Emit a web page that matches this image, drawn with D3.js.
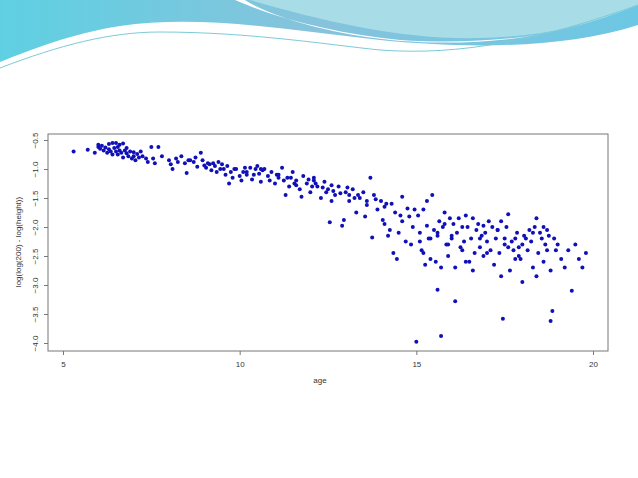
<!DOCTYPE html>
<html>
<head>
<meta charset="utf-8">
<script src="https://cdn.jsdelivr.net/npm/d3@7"></script>
<style>
body { margin: 0; background: #fff; }
text { font-family: "Liberation Sans", Arial, sans-serif; fill: #333; }
</style>
</head>
<body>
<svg id="chart" width="638" height="478"></svg>
<script>
var ages = [5.3,5.7,5.9,6.0,6.0,6.05,6.1,6.15,6.2,6.25,6.3,6.3,6.35,6.4,6.4,6.45,6.5,6.5,6.55,6.55,6.6,6.6,6.65,6.7,6.7,6.75,6.8,6.8,6.85,6.9,6.95,7.0,7.0,7.05,7.1,7.15,7.2,7.25,7.35,7.4,7.5,7.55,7.6,7.7,7.8,8.0,8.05,8.1,8.2,8.25,8.35,8.45,8.5,8.55,8.6,8.7,8.75,8.8,8.9,8.95,9.0,9.05,9.1,9.15,9.2,9.25,9.3,9.35,9.4,9.45,9.5,9.55,9.6,9.65,9.7,9.75,9.8,9.85,9.9,10.0,10.05,10.1,10.15,10.2,10.3,10.35,10.4,10.45,10.5,10.55,10.6,10.65,10.7,10.8,10.85,10.9,11.0,11.05,11.1,11.2,11.25,11.3,11.35,11.4,11.45,11.5,11.55,11.6,11.7,11.75,11.8,11.9,11.95,12.0,12.05,12.1,12.15,12.2,12.3,12.35,12.4,12.45,12.5,12.55,12.6,12.65,12.7,12.8,12.85,12.9,12.95,13.0,13.05,13.1,13.2,13.25,13.3,13.35,13.4,13.5,13.55,13.6,13.7,13.75,13.8,13.85,13.9,14.0,14.05,14.1,14.15,14.2,14.25,14.3,14.35,14.4,14.45,14.5,14.55,14.6,14.7,14.75,14.8,14.85,14.9,14.95,15.0,15.05,15.1,15.15,15.2,15.25,15.3,15.35,15.4,15.45,15.5,15.55,15.6,15.6,15.65,15.7,15.7,15.75,15.8,15.85,15.9,15.95,16.0,16.05,16.1,16.1,16.15,16.2,16.25,16.3,16.35,16.4,16.45,16.5,16.55,16.6,16.65,16.7,16.75,16.8,16.85,16.9,16.95,17.0,17.05,17.1,17.15,17.2,17.25,17.3,17.35,17.4,17.45,17.5,17.5,17.55,17.6,17.65,17.7,17.75,17.8,17.85,17.9,17.95,18.0,18.05,18.1,18.15,18.2,18.25,18.3,18.35,18.4,18.45,18.5,18.55,18.6,18.65,18.7,18.75,18.8,18.8,18.85,18.9,18.95,19.0,19.2,19.3,19.4,19.5,19.6,19.7,19.8,
  10.2,10.6,11.1,11.6,12.1,12.6,13.1,13.6,14.1,14.6,15.1,15.3,15.8,16.3,16.8,17.3,17.8,18.3,18.6,19.1,
  15.2,15.4,15.9,16.4,16.9,17.4,17.9,18.4,18.7,15.6,16.6,17.6,16.0,17.0,18.0];
var logVals = [-0.70,-0.67,-0.72,-0.58,-0.62,-0.65,-0.60,-0.68,-0.63,-0.72,-0.57,-0.66,-0.70,-0.55,-0.75,-0.64,-0.55,-0.70,-0.75,-0.62,-0.68,-0.58,-0.72,-0.56,-0.80,-0.68,-0.73,-0.64,-0.78,-0.70,-0.82,-0.78,-0.71,-0.85,-0.74,-0.80,-0.70,-0.78,-0.82,-0.88,-0.62,-0.82,-0.90,-0.62,-0.78,-0.85,-0.92,-1.00,-0.82,-0.88,-0.78,-0.90,-1.07,-0.85,-0.85,-0.88,-0.80,-0.96,-0.72,-0.85,-0.94,-0.98,-0.90,-0.92,-1.02,-0.90,-0.95,-1.05,-0.88,-1.00,-0.92,-1.00,-1.10,-0.95,-1.25,-1.05,-1.15,-1.00,-1.00,-1.12,-1.20,-1.05,-0.98,-1.10,-0.98,-1.18,-1.10,-1.00,-0.95,-1.08,-1.22,-1.02,-1.00,-1.12,-1.20,-1.05,-1.25,-1.10,-1.10,-0.98,-1.20,-1.45,-1.15,-1.30,-1.15,-1.05,-1.25,-1.20,-1.35,-1.48,-1.12,-1.25,-1.18,-1.40,-1.30,-1.15,-1.25,-1.30,-1.50,-1.32,-1.22,-1.40,-1.35,-1.92,-1.28,-1.38,-1.45,-1.30,-1.42,-1.98,-1.88,-1.40,-1.32,-1.55,-1.35,-1.50,-1.75,-1.45,-1.50,-1.40,-1.82,-1.62,-1.15,-2.18,-1.45,-1.52,-1.70,-1.55,-1.88,-1.95,-1.60,-2.15,-2.05,-1.60,-2.45,-1.75,-2.55,-2.10,-1.80,-1.48,-2.25,-1.68,-1.82,-2.30,-2.00,-1.70,-3.98,-1.80,-2.10,-2.40,-1.70,-2.65,-1.98,-2.20,-2.55,-1.45,-2.05,-2.60,-3.08,-2.10,-1.90,-2.70,-3.88,-2.00,-1.75,-2.30,-2.50,-1.85,-2.15,-1.95,-3.28,-2.70,-2.10,-1.85,-2.35,-2.00,-2.25,-1.80,-2.00,-2.60,-2.20,-1.85,-2.45,-2.05,-1.95,-2.35,-2.15,-2.50,-2.10,-2.25,-1.90,-2.40,-2.00,-2.65,-2.20,-2.05,-2.45,-1.90,-3.58,-2.20,-2.30,-2.00,-1.78,-2.75,-2.25,-2.40,-2.20,-2.10,-2.35,-2.55,-2.30,-2.15,-2.20,-2.40,-2.05,-2.25,-2.10,-2.00,-1.85,-2.45,-2.10,-2.20,-2.60,-2.30,-2.05,-2.15,-3.62,-2.75,-3.45,-2.20,-2.40,-2.30,-2.70,-2.40,-3.10,-2.30,-2.55,-2.70,-2.45,
  -1.05,-1.00,-1.15,-1.28,-1.20,-1.55,-1.45,-1.55,-1.65,-1.90,-2.25,-1.55,-1.95,-2.40,-2.20,-2.05,-2.55,-2.70,-2.00,-2.55,
  -2.45,-2.20,-2.30,-2.60,-1.98,-2.85,-2.50,-2.85,-2.40,-2.15,-2.75,-2.35,-2.20,-2.45,-2.95];
var xTicks = [5, 10, 15, 20];
var yTicks = [-0.5, -1.0, -1.5, -2.0, -2.5, -3.0, -3.5, -4.0];

var svg = d3.select("#chart");

// slide header wave
var defs = svg.append("defs");
var g1 = defs.append("linearGradient").attr("id", "wave1").attr("x1", 0).attr("x2", 1);
g1.append("stop").attr("offset", 0).attr("stop-color", "#5fd0e2");
g1.append("stop").attr("offset", 0.5).attr("stop-color", "#86c3dc");
g1.append("stop").attr("offset", 1).attr("stop-color", "#6cc7e4");
svg.append("path").attr("fill", "url(#wave1)")
    .attr("d", "M0,0 H638 V25 C560,50 460,48 380,40 C290,30 200,14 120,26 C70,34 30,50 0,62 Z");
svg.append("path").attr("fill", "#fff")
    .attr("d", "M235,0 C280,20 340,34 400,40 C460,44 520,40 560,30 C500,45 420,46 360,36 C300,26 260,10 245,0 Z");
svg.append("path").attr("fill", "#a8dde8")
    .attr("d", "M250,0 H638 V5 C600,20 560,36 480,38 C400,40 320,20 250,0 Z");
svg.append("path").attr("fill", "none").attr("stroke", "#7ccbd8").attr("stroke-width", 1)
    .attr("d", "M0,68 C60,45 110,32 160,32 C250,32 330,45 380,50 C460,56 540,40 638,5");

var plotLeft = 48, plotTop = 134, plotRight = 608, plotBottom = 351;
var x = d3.scaleLinear().domain([5, 20]).range([63, 593]);
var y = d3.scaleLinear().domain([-0.5, -4.0]).range([140, 343]);

svg.append("rect").attr("x", plotLeft).attr("y", plotTop)
    .attr("width", plotRight - plotLeft).attr("height", plotBottom - plotTop)
    .attr("fill", "#fff").attr("stroke", "#777").attr("stroke-width", 1);

var xAxis = svg.append("g").attr("transform", "translate(0," + plotBottom + ")")
    .call(d3.axisBottom(x).tickValues(xTicks).tickSize(4).tickPadding(6));
var yAxis = svg.append("g").attr("transform", "translate(" + plotLeft + ",0)")
    .call(d3.axisLeft(y).tickValues(yTicks).tickSize(4).tickFormat(d3.format(".1f")));
[xAxis, yAxis].forEach(function(a) {
    a.select(".domain").remove();
    a.selectAll("line").attr("stroke", "#777");
    a.selectAll("text").attr("font-size", 8).attr("fill", "#444");
});
yAxis.selectAll("text").each(function() {
    d3.select(this).attr("x", null).attr("dy", null).attr("text-anchor", "middle")
        .attr("transform", "translate(-10,0) rotate(-90)");
});

svg.append("text").attr("x", 320).attr("y", 383).attr("text-anchor", "middle")
    .attr("font-size", 8).text("age");
svg.append("text").attr("transform", "translate(21,242) rotate(-90)").attr("text-anchor", "middle")
    .attr("font-size", 8).text("log(log(200) - log(height))");

svg.append("g").selectAll("circle").data(ages).enter().append("circle")
    .attr("cx", function(d) { return x(d); })
    .attr("cy", function(d, i) { return y(logVals[i]); })
    .attr("r", 2).attr("fill", "#1010b8");
</script>
</body>
</html>
